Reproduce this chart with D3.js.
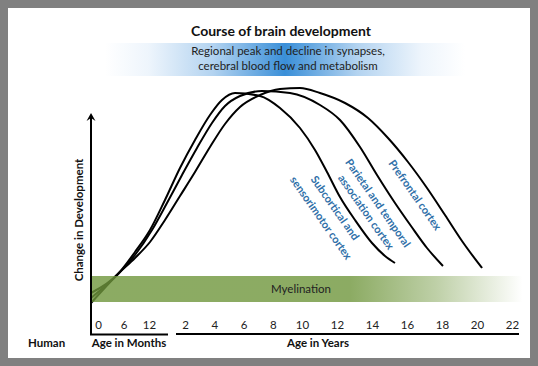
<!DOCTYPE html>
<html>
<head>
<meta charset="utf-8">
<script src="https://cdn.jsdelivr.net/npm/d3@7"></script>
<style>
  html, body { margin: 0; padding: 0; background: #808080; }
  svg { display: block; }
</style>
</head>
<body>
<div id="chart"></div>
<script>
// ages in years (months shown as fractions of a year), values = relative change
const monthTicks = [0, 6, 12];
const yearTicks = [2, 4, 6, 8, 10, 12, 14, 16, 18, 20, 22];

const subcortical = [
  [-0.137, 16.4], [0.392, 24], [0.725, 32.8], [1.028, 41.6], [1.444, 53.6],
  [1.861, 66.4], [2.684, 77.6], [3.709, 87.6], [4.530, 93.6], [5.419, 96.4],
  [7.128, 95.2], [8.496, 90.4], [9.863, 82.4], [10.743, 73.6], [11.429, 64.8],
  [12.171, 54.8], [13.029, 45.6], [14.0, 36.4], [14.743, 31.2], [15.314, 28.4]
];
const parietal = [
  [-0.137, 14.4], [0.392, 24], [0.725, 31.6], [1.083, 41.6], [1.5, 52.4],
  [1.917, 63.6], [2.821, 74.4], [3.846, 84.4], [4.735, 91.2], [5.761, 95.2],
  [7.265, 97.2], [9.179, 96.4], [11.029, 91.6], [12.171, 85.6], [13.314, 74.8],
  [14.286, 63.6], [15.314, 52.4], [16.229, 43.2], [17.143, 34.4], [18.057, 27.2]
];
const prefrontal = [
  [-0.137, 12.4], [0.392, 24], [0.725, 30.4], [1.028, 36.8], [1.444, 45.6],
  [1.861, 55.2], [2.684, 64.8], [3.709, 74.8], [4.735, 84], [5.761, 90.8],
  [7.128, 95.6], [8.496, 98], [9.863, 98.4], [11.029, 96.4], [12.457, 92.4],
  [13.771, 86.4], [14.914, 78.4], [16.057, 68.8], [17.143, 58.4], [18.171, 47.6],
  [19.143, 37.2], [20.286, 26.4]
];

const regionLabels = [
  { lines: ['Subcortical and', 'sensorimotor cortex'], at: [[11.886, 50.4], [11.086, 46.4]] },
  { lines: ['Parietal and temporal', 'association cortex'], at: [[14.343, 52.4], [13.657, 48.8]] },
  { lines: ['Prefrontal cortex'], at: [[16.457, 55.6]] }
];

// myelination band: age range and value range
const myelinAges = [-0.137, 22.6];
const myelinValues = [12.8, 23.2];

const width = 538;
const height = 366;
const font = 'Lato, "Open Sans", sans-serif';
const blue = '#2f6fa8';

const svg = d3.select('#chart')
  .append('svg')
  .attr('width', width)
  .attr('height', height);

const defs = svg.append('defs');

const blueGrad = defs.append('linearGradient').attr('id', 'blueGrad');
[[0, '#ffffff'], [0.12, '#eef5fc'], [0.3, '#b3d3f0'], [0.5, '#3a8fd8'],
 [0.7, '#b3d3f0'], [0.88, '#eef5fc'], [1, '#ffffff']].forEach(([o, c]) => {
  blueGrad.append('stop').attr('offset', o).attr('stop-color', c);
});

// band sits over the curves, a bit see-through
const greenGrad = defs.append('linearGradient').attr('id', 'greenGrad');
[[0, 0.8], [0.6, 0.8], [0.8, 0.45], [1, 0]].forEach(([o, a]) => {
  greenGrad.append('stop')
    .attr('offset', o)
    .attr('stop-color', '#6f963c')
    .attr('stop-opacity', a);
});

// white panel on grey frame
svg.append('rect')
  .attr('x', 8).attr('y', 8)
  .attr('width', 522).attr('height', 350)
  .style('fill', '#ffffff');

// the months part is stretched, years part is drawn unevenly in the original
const xScale = d3.scaleLinear()
  .domain([0, 1, 2, 10, 22])
  .range([98, 149, 185, 302, 512]);

const yScale = d3.scaleLinear()
  .domain([0, 100])
  .range([334, 84]);

const axisX = xScale(-0.137);

// title and blue band
svg.append('rect')
  .attr('x', 105).attr('y', 43)
  .attr('width', 360).attr('height', 33)
  .style('fill', 'url(#blueGrad)');

svg.append('text')
  .attr('x', 281).attr('y', 36)
  .style('text-anchor', 'middle')
  .style('font-family', font)
  .style('font-weight', 'bold')
  .style('font-size', '14px')
  .style('fill', '#111')
  .text('Course of brain development');

svg.append('text')
  .attr('x', 288).attr('y', 55)
  .style('text-anchor', 'middle')
  .style('font-family', font)
  .style('font-size', '11.5px')
  .style('fill', '#222')
  .text('Regional peak and decline in synapses,');

svg.append('text')
  .attr('x', 288).attr('y', 70)
  .style('text-anchor', 'middle')
  .style('font-family', font)
  .style('font-size', '11.5px')
  .style('fill', '#222')
  .text('cerebral blood flow and metabolism');

// curves
const line = d3.line()
  .x((d) => xScale(d[0]))
  .y((d) => yScale(d[1]))
  .curve(d3.curveMonotoneX);

svg.selectAll('.curve')
  .data([subcortical, parietal, prefrontal])
  .enter()
  .append('path')
  .attr('class', 'curve')
  .attr('d', line)
  .style('fill', 'none')
  .style('stroke', '#000')
  .style('stroke-width', 2);

// myelination band
svg.append('rect')
  .attr('x', xScale(myelinAges[0]))
  .attr('y', yScale(myelinValues[1]))
  .attr('width', xScale(myelinAges[1]) - xScale(myelinAges[0]))
  .attr('height', yScale(myelinValues[0]) - yScale(myelinValues[1]))
  .style('fill', 'url(#greenGrad)');

svg.append('text')
  .attr('x', 301)
  .attr('y', yScale((myelinValues[0] + myelinValues[1]) / 2))
  .attr('dy', '0.35em')
  .style('text-anchor', 'middle')
  .style('font-family', font)
  .style('font-size', '11.5px')
  .style('fill', '#222')
  .text('Myelination');

// region labels, rotated along the falling curves
regionLabels.forEach((lab) => {
  lab.lines.forEach((txt, i) => {
    const px = xScale(lab.at[i][0]);
    const py = yScale(lab.at[i][1]);
    svg.append('text')
      .attr('transform', `translate(${px},${py}) rotate(55)`)
      .attr('dy', '0.35em')
      .style('text-anchor', 'middle')
      .style('font-family', font)
      .style('font-weight', 'bold')
      .style('font-size', '11px')
      .style('fill', blue)
      .text(txt);
  });
});

// y axis with arrow
svg.append('line')
  .attr('x1', axisX).attr('y1', 334)
  .attr('x2', axisX).attr('y2', yScale(88.4) + 2)
  .style('stroke', '#000')
  .style('stroke-width', 2);

const tipY = yScale(88.4);
svg.append('path')
  .attr('d', `M${axisX - 4.5},${tipY + 8} L${axisX},${tipY} L${axisX + 4.5},${tipY + 8} L${axisX},${tipY + 5} Z`)
  .style('fill', '#000');

svg.append('text')
  .attr('transform', `translate(79,220) rotate(-90)`)
  .attr('dy', '0.35em')
  .style('text-anchor', 'middle')
  .style('font-family', font)
  .style('font-weight', 'bold')
  .style('font-size', '11.5px')
  .style('fill', '#111')
  .text('Change in Development');

// x axes: months and years
const monthAxis = d3.axisBottom(xScale)
  .tickValues(monthTicks.map((m) => m / 12))
  .tickFormat((d) => String(Math.round(d * 12)))
  .tickSize(0);

const yearAxis = d3.axisBottom(xScale)
  .tickValues(yearTicks)
  .tickFormat(d3.format('d'))
  .tickSize(0);

[monthAxis, yearAxis].forEach((ax) => {
  const g = svg.append('g')
    .attr('transform', 'translate(0,321)')
    .call(ax);
  g.select('.domain').remove();
  g.selectAll('text')
    .attr('y', 0)
    .attr('dy', '0.71em')
    .style('font-family', font)
    .style('font-size', '11.5px')
    .style('fill', '#222');
});

svg.append('line')
  .attr('x1', axisX - 1).attr('y1', 334.5)
  .attr('x2', 168).attr('y2', 334.5)
  .style('stroke', '#000')
  .style('stroke-width', 2);

svg.append('line')
  .attr('x1', 176).attr('y1', 334)
  .attr('x2', 519).attr('y2', 334)
  .style('stroke', '#000')
  .style('stroke-width', 2);

[['Human', 28, 'start'], ['Age in Months', 129, 'middle'], ['Age in Years', 318, 'middle']].forEach(([t, x, anchor]) => {
  svg.append('text')
    .attr('x', x).attr('y', 343)
    .attr('dy', '0.35em')
    .style('text-anchor', anchor)
    .style('font-family', font)
    .style('font-weight', 'bold')
    .style('font-size', '11.5px')
    .style('fill', '#111')
    .text(t);
});
</script>
</body>
</html>
